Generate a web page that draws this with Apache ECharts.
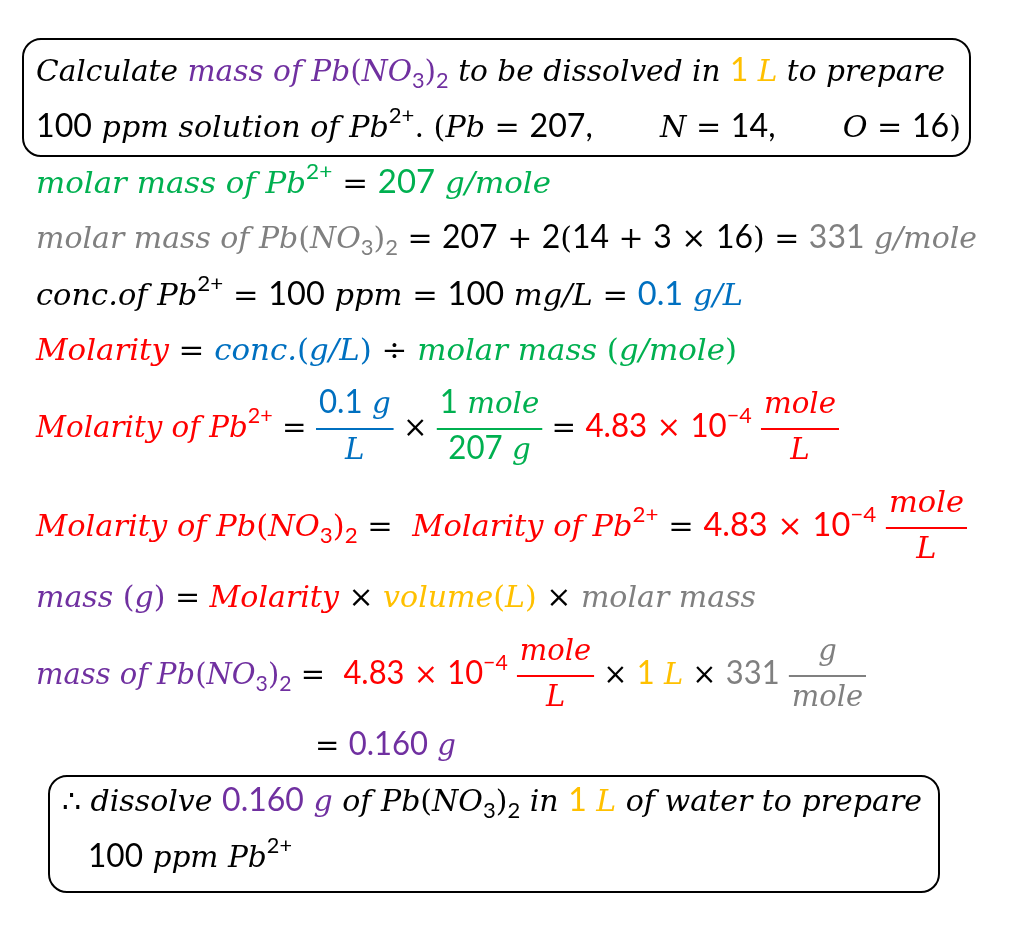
<!DOCTYPE html>
<html>
<head>
<meta charset="utf-8">
<script src="https://cdn.jsdelivr.net/npm/echarts@6/dist/echarts.min.js"></script>
<style>html,body{margin:0;padding:0;background:#fff;}#main{width:1015px;height:931px;}</style>
</head>
<body>
<div id="main"></div>
<script>
// ---- content (text tokens: [text, colourKey, kind]; fractions: ['frac', numerator, denominator]) ----
const line1 = [['Calculate ','K','i'],['mass of Pb','P','i'],['(','P','o'],['NO','P','i'],['3','P','sub'],[')','P','o'],['2','P','sub'],[' to be dissolved in ','K','i'],['1','Y','n'],[' L','Y','i'],[' to prepare','K','i']];
const line2 = [['100','K','n'],[' ppm solution of Pb','K','i'],['2+','K','sup'],['. ','K','o'],['(','K','o'],['Pb','K','i'],[' = ','K','o'],['207,','K','n'],['       ','K','o'],['N','K','i'],[' = ','K','o'],['14,','K','n'],['       ','K','o'],['O','K','i'],[' = ','K','o'],['16','K','n'],[')','K','o']];
const line3 = [['molar mass of Pb','G','i'],['2+','G','sup'],[' = ','K','o'],['207','G','n'],[' g/mole','G','i']];
const line4 = [['molar mass of Pb','A','i'],['(','A','o'],['NO','A','i'],['3','A','sub'],[')','A','o'],['2','A','sub'],[' = ','K','o'],['207','K','n'],[' + ','K','o'],['2','K','n'],['(','K','o'],['14','K','n'],[' + ','K','o'],['3','K','n'],[' × ','K','o'],['16','K','n'],[')','K','o'],[' = ','K','o'],['331','A','n'],[' g/mole','A','i']];
const line5 = [['conc.','K','i'],['of Pb','K','i'],['2+','K','sup'],[' = ','K','o'],['100','K','n'],[' ppm','K','i'],[' = ','K','o'],['100','K','n'],[' mg/L','K','i'],[' = ','K','o'],['0.1','B','n'],[' g/L','B','i']];
const line6 = [['Molarity','R','i'],[' = ','K','o'],['conc.','B','i'],['(','B','o'],['g/L','B','i'],[')','B','o'],[' ÷ ','K','o'],['molar mass ','G','i'],['(','G','o'],['g/mole','G','i'],[')','G','o']];
const fracBlueG = ['frac', [['0.1','B','n'],[' g','B','i']], [['L','B','i']], 'B'];
const fracMoleInv = ['frac', [['1','G','n'],[' mole','G','i']], [['207','G','n'],[' g','G','i']], 'G'];
const fracMolePerL = ['frac', [['mole','R','i']], [['L','R','i']], 'R'];
const fracGPerMole = ['frac', [['g','A','i']], [['mole','A','i']], 'A'];
const line7 = [['Molarity of Pb','R','i'],['2+','R','sup'],[' = ','K','o'],fracBlueG,[' × ','K','o'],fracMoleInv,[' = ','K','o'],['4.83','R','n'],[' × ','R','o'],['10','R','n'],['−4','R','sup'],[' ','R','o'],fracMolePerL];
const line8 = [['Molarity of Pb','R','i'],['(','R','o'],['NO','R','i'],['3','R','sub'],[')','R','o'],['2','R','sub'],[' =  ','K','o'],['Molarity of Pb','R','i'],['2+','R','sup'],[' = ','K','o'],['4.83','R','n'],[' × ','R','o'],['10','R','n'],['−4','R','sup'],[' ','R','o'],fracMolePerL];
const line9 = [['mass ','P','i'],['(','P','o'],['g','P','i'],[')','P','o'],[' = ','K','o'],['Molarity','R','i'],[' × ','K','o'],['volume','Y','i'],['(','Y','o'],['L','Y','i'],[')','Y','o'],[' × ','K','o'],['molar mass','A','i']];
const line10 = [['mass of Pb','P','i'],['(','P','o'],['NO','P','i'],['3','P','sub'],[')','P','o'],['2','P','sub'],[' =  ','K','o'],['4.83','R','n'],[' × ','R','o'],['10','R','n'],['−4','R','sup'],[' ','R','o'],fracMolePerL,[' × ','K','o'],['1','Y','n'],[' L','Y','i'],[' × ','K','o'],['331','A','n'],[' ','A','o'],fracGPerMole];
const line11 = [['= ','K','o'],['0.160','P','n'],[' g','P','i']];
const line12 = [['∴ ','K','o'],['dissolve ','K','i'],['0.160','P','n'],[' g','P','i'],[' of Pb','K','i'],['(','K','o'],['NO','K','i'],['3','K','sub'],[')','K','o'],['2','K','sub'],[' in ','K','i'],['1','Y','n'],[' L','Y','i'],[' of water to prepare','K','i']];
const line13 = [['100','K','n'],[' ppm Pb','K','i'],['2+','K','sup']];

// ---- styles / layout ----
const COLORS = {K:'#000000', P:'#7030A0', Y:'#FFC000', G:'#00B050', A:'#808080', B:'#0070C0', R:'#FF0000'};
const SIZE = 30;
// [tokens, left x, middle y, right edge to fit]
const LAYOUT = [
  [line1, 36, 73, 945],
  [line2, 36, 129, 961],
  [line3, 36, 185, 551],
  [line4, 36, 240, 977],
  [line5, 36, 297, 743],
  [line6, 36, 352, 737],
  [line7, 36, 429, 839],
  [line8, 36, 528, 967],
  [line9, 36, 599, 756],
  [line10, 36, 676, 866],
  [line11, 315, 747, 456],
  [line12, 62, 803, 922],
  [line13, 88, 859, 292]
];
const BOXES = [[23, 39, 947, 117], [49, 776, 890, 116]];

const mctx = document.createElement('canvas').getContext('2d');
function fontSpec(kind) {
  if (kind === 'i') return {style:'italic', size:SIZE, family:'"DejaVu Serif"', dy:0};
  if (kind === 'n') return {style:'normal', size:Math.round(SIZE*1.08), family:'Lato', dy:-0.07*SIZE};
  if (kind === 'o') return {style:'normal', size:SIZE, family:'"DejaVu Serif"', dy:0};
  if (kind === 'sup') return {style:'normal', size:Math.round(SIZE*0.74), family:'Lato', dy:-0.42*SIZE};
  if (kind === 'sub') return {style:'normal', size:Math.round(SIZE*0.74), family:'Lato', dy:0.26*SIZE};
}
function measure(text, f) {
  mctx.font = f.style + ' normal ' + f.size + 'px ' + f.family;
  return mctx.measureText(text).width;
}
function layoutTokens(tokens) {
  const items = [], bars = [];
  let cur = 0;
  tokens.forEach(function (t) {
    if (t[0] === 'frac') {
      const num = layoutTokens(t[1]), den = layoutTokens(t[2]);
      const pad = 3;
      const w = Math.max(num.width, den.width) + pad * 2;
      num.items.forEach(function (it) { items.push(Object.assign({}, it, {dx: cur + (w - num.width) / 2 + it.dx, dy: it.dy - 0.8 * SIZE})); });
      den.items.forEach(function (it) { items.push(Object.assign({}, it, {dx: cur + (w - den.width) / 2 + it.dx, dy: it.dy + 0.74 * SIZE})); });
      bars.push({dx: cur, w: w, color: t[3]});
      cur += w;
    } else {
      const f = fontSpec(t[2]);
      const w = measure(t[0], f);
      items.push({text: t[0], color: t[1], f: f, dx: cur, dy: f.dy});
      cur += w;
    }
  });
  return {items: items, bars: bars, width: cur};
}

const graphics = [];
BOXES.forEach(function (b) {
  graphics.push({type:'rect', shape:{x:b[0], y:b[1], width:b[2], height:b[3], r:18}, style:{fill:'none', stroke:'#000', lineWidth:2}, silent:true});
});
LAYOUT.forEach(function (L) {
  const lay = layoutTokens(L[0]);
  const s = L[3] ? (L[3] - L[1]) / lay.width : 1;
  lay.items.forEach(function (it) {
    if (!it.text.trim()) return;
    graphics.push({
      type:'text', x: L[1] + it.dx * s, y: L[2] + it.dy, scaleX: s, silent:true,
      style:{text: it.text, fill: COLORS[it.color], fontSize: it.f.size, fontFamily: it.f.family, fontStyle: it.f.style, verticalAlign:'middle', align:'left'}
    });
  });
  lay.bars.forEach(function (b) {
    graphics.push({type:'rect', shape:{x: L[1] + b.dx * s, y: L[2] - 1, width: b.w * s, height: 2}, style:{fill: COLORS[b.color]}, silent:true});
  });
});

const chart = echarts.init(document.getElementById('main'), null, {renderer:'canvas'});
chart.setOption({backgroundColor:'#ffffff', animation:false, graphic: graphics});
</script>
</body>
</html>
